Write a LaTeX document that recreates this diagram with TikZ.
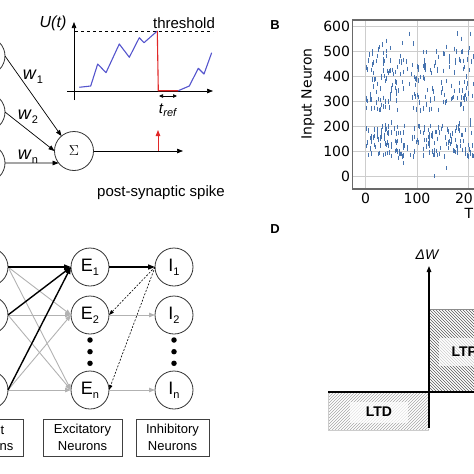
\documentclass[tikz,border=0pt]{standalone}
\usepackage{fontspec}
\setmainfont{Liberation Sans}
\newfontfamily\dejavu{DejaVu Sans}
\usetikzlibrary{arrows.meta,patterns}
\definecolor{curveblue}{RGB}{85,85,205}
\definecolor{spikered}{RGB}{225,40,40}
\definecolor{rasterblue}{RGB}{70,115,175}
\definecolor{gridgray}{RGB}{205,205,205}
\definecolor{framegray}{RGB}{105,105,105}
\definecolor{lightarr}{RGB}{178,178,178}
\newcommand\mysub[1]{\raisebox{-0.45ex}{\fontsize{11}{12}\selectfont #1}}
\begin{document}
\begin{tikzpicture}[x=1pt,y=-1pt,
  every node/.style={inner sep=0pt,outer sep=0pt},
  neuron/.style={circle,draw=black!80,line width=0.8pt,minimum size=38pt,inner sep=0pt,font=\fontsize{18}{20}\selectfont},
  arr/.style={-{Triangle[length=6pt,width=4.5pt]},line width=0.7pt},
  thickarr/.style={-{Triangle[length=7pt,width=5pt]},line width=1.4pt,black},
  grayarr/.style={-{Triangle[length=6pt,width=4.5pt]},line width=0.9pt,lightarr},
  dasharr/.style={-{Triangle[length=5pt,width=3.5pt]},line width=0.6pt,dash pattern=on 2pt off 1.5pt},
  dotnode/.style={circle,fill=black,minimum size=5.5pt},
  labbox/.style={draw=black!75,line width=0.8pt,align=center,font=\fontsize{13}{16.5}\selectfont},
  atext/.style={font=\fontsize{15}{18}\selectfont},
  btext/.style={font=\dejavu\fontsize{14}{16}\selectfont},
  spk/.style={rasterblue,line width=0.9pt},
  panel/.style={font=\bfseries\fontsize{13}{15}\selectfont}
]
\useasboundingbox (0,0) rectangle (474,474);
\clip (0,0) rectangle (474,474);

% ---------------- Panel A ----------------
\node[neuron] (in1) at (-14,56) {};
\node[neuron] (in2) at (-14,112) {};
\node[neuron] (in3) at (-14,163) {};
\node[neuron,minimum size=39pt,font=\fontsize{14}{15}\selectfont] (sigma) at (74,151) {$\Sigma$};
\draw[arr] (in1.east) -- (sigma.130);
\draw[arr] (in2.east) -- (sigma.west);
\draw[arr] (in3.east) -- (sigma.218);
\node[atext,font=\fontsize{18}{20}\selectfont] (w1) at (33,77) {\textit{w}\mysub{1}};
\node[atext,font=\fontsize{18}{20}\selectfont] (w2) at (28,117) {\textit{w}\mysub{2}};
\node[atext,font=\fontsize{18}{20}\selectfont] (wn) at (28,157) {\textit{w}\mysub{n}};
\coordinate (outend) at (183,151);
\draw[arr] (sigma.east) -- (outend);
\coordinate (spikebase) at (158,151);
\coordinate (spiketop) at (158,130);
\draw[-{Triangle[length=6pt,width=4.5pt]},line width=0.9pt,spikered] (spikebase) -- (spiketop);
\node[atext] (pss) at (161,193) {post-synaptic spike};

% membrane potential plot
\draw[arr] (74,100) -- (74,22);
\draw[arr] (67,91) -- (213,91);
\draw[dashed,line width=0.7pt] (75,31) -- (213,31);
\node[atext,font=\fontsize{16}{18}\selectfont\itshape] (ut) at (53,23) {U(t)};
\node[atext] (thr) at (184,23) {threshold};
\draw[curveblue,line width=1.1pt,line join=round] (79.3,87.3) -- (90.7,86) -- (97.7,64) -- (106,72.7) -- (119.3,44) -- (129.3,57.3) -- (139.3,37.7) -- (144,42.7) -- (157.3,31);
\draw[spikered,line width=1.1pt] (157.3,31) -- (158.3,90.7) -- (178.3,90.7);
\draw[curveblue,line width=1.1pt,line join=round] (178.3,90.7) -- (189.3,86) -- (198.3,68.3) -- (204,74) -- (211.7,52.7);
\draw[{Triangle[length=4pt,width=3.5pt]}-{Triangle[length=4pt,width=3.5pt]},line width=0.7pt] (159,96) -- (177,96);
\node[atext] (tref) at (168,110) {\textit{t}\mysub{\textit{ref}}};

% ---------------- Panel B ----------------
\node[panel] (labB) at (275,25) {B};
\foreach \yv/\yp in {600/26,500/51.7,400/76.7,300/101.7,200/126.7,100/151.7,0/176.7}{
  \draw[gridgray,line width=0.8pt] (352.3,\yp) -- (480,\yp);
  \node[btext,anchor=east] at (350,\yp) {\yv};
}
\foreach \xp in {365.7,417,468.3}{
  \draw[gridgray,line width=0.8pt] (\xp,20) -- (\xp,189);
}
\node[btext] (x0) at (365.7,198) {0};
\node[btext] (x100) at (417,198) {100};
\node[btext,anchor=west] (x200) at (455,198) {20};
\node[btext,anchor=west] (xlab) at (464.5,213) {T};
\node[btext,rotate=90] (ylab) at (308,94) {Input Neuron};
\begin{scope}
\clip (353,20.5) rectangle (474,188.5);
\pgfmathsetseed{4242}
\foreach \k in {1,...,400}{
  \pgfmathsetmacro\tA{rnd*212}
  \pgfmathsetmacro\rA{rnd}
  \pgfmathsetmacro\nA{\rA<0.42 ? 80+rnd*125 : (\rA<0.88 ? 265+rnd*255 : rnd*585)}
  \draw[spk] ({365.7+0.513*\tA},{176.7-0.25*\nA-2.2}) -- ++(0,4.4);
}
\end{scope}
\draw[framegray,line width=1.3pt] (480,20) -- (352.3,20) -- (352.3,189) -- (480,189);

% ---------------- Panel C ----------------
\node[neuron] (c1) at (-11,267) {};
\node[neuron] (c2) at (-11,315) {};
\node[neuron] (c3) at (-11,390) {};
\node[neuron] (E1) at (90,267) {E\mysub{1}};
\node[neuron] (E2) at (90,315) {E\mysub{2}};
\node[neuron] (En) at (90,390) {E\mysub{n}};
\node[neuron] (I1) at (174,267) {I\mysub{1}};
\node[neuron] (I2) at (174,315) {I\mysub{2}};
\node[neuron] (In) at (174,390) {I\mysub{n}};
\node[dotnode] (ed1) at (90,340) {};
\node[dotnode] (ed2) at (90,351.7) {};
\node[dotnode] (ed3) at (90,363.3) {};
\node[dotnode] (id1) at (174,340) {};
\node[dotnode] (id2) at (174,351.7) {};
\node[dotnode] (id3) at (174,363.3) {};
\foreach \s in {c1,c2,c3}{
  \draw[grayarr] (\s.east) -- (E2.west);
  \draw[grayarr] (\s.east) -- (En.west);
}
\draw[grayarr] (E2.east) -- (I2.west);
\draw[grayarr] (En.east) -- (In.west);
\draw[thickarr] (c1.east) -- (E1.west);
\draw[thickarr] (c2.east) -- (E1.west);
\draw[thickarr] (c3.east) -- (E1.west);
\draw[thickarr] (E1.east) -- (I1.west);
\draw[dasharr] (I1.west) -- (E2.east);
\draw[dasharr] (I1.west) -- (En.east);
\node[labbox,minimum width=79pt,minimum height=37pt] (exc) at (82.5,437.5) {Excitatory\\Neurons};
\node[labbox,minimum width=73pt,minimum height=37pt] (inh) at (172.5,437.5) {Inhibitory\\Neurons};
\node[labbox,minimum width=68.6pt,minimum height=37pt] (inp) at (-11,437.5) {};
\node[font=\fontsize{13}{16.5}\selectfont,anchor=base east] (inpt1) at (4.3,434) {t};
\node[font=\fontsize{13}{16.5}\selectfont,anchor=base east] (inpt2) at (13.3,450.7) {ns};

% ---------------- Panel D ----------------
\node[panel] (labD) at (275,229) {D};
\fill[pattern=north west lines,pattern color=black!65] (429,309) rectangle (480,392);
\draw[black!45,line width=0.8pt] (429,309) -- (480,309);
\fill[pattern=north east lines,pattern color=black!35] (328,392) rectangle (429,430);
\draw[black!20,line width=0.6pt] (328,392) -- (328,430) -- (429,430);
\fill[white,opacity=0.7] (350,402) rectangle (408,423);
\fill[white,opacity=0.7] (439,338) rectangle (480,366);
\node[font=\bfseries\fontsize{14}{16}\selectfont] (ltd) at (379,412) {LTD};
\node[font=\bfseries\fontsize{14}{16}\selectfont,anchor=west] (ltp) at (451.5,352) {LTP};
\draw[line width=1.3pt] (328,392) -- (480,392);
\draw[-{Triangle[length=6pt,width=4.5pt]},line width=1.3pt] (429,428) -- (429,266);
\node[font=\itshape\fontsize{14}{16}\selectfont] (dw) at (427,255) {ΔW};
\end{tikzpicture}
\end{document}
